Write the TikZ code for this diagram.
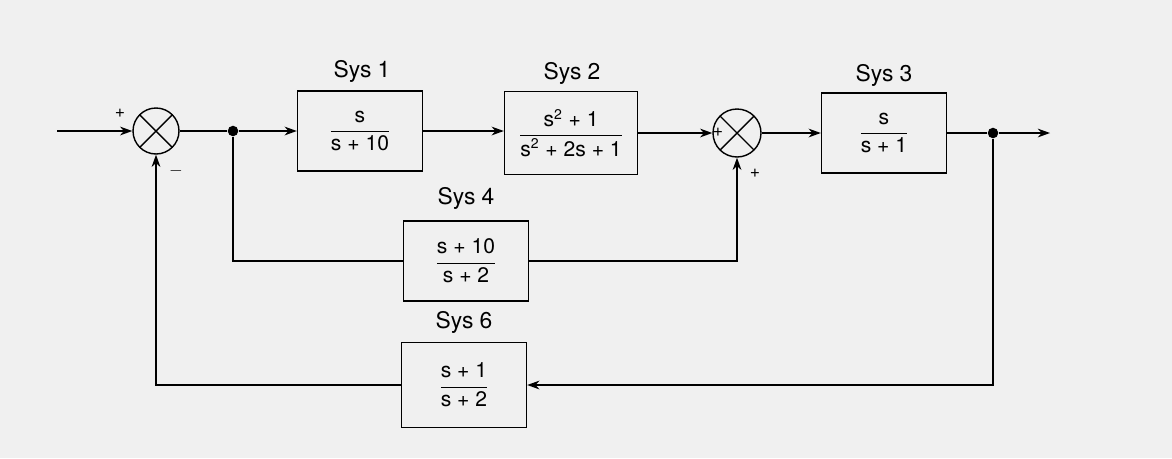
\documentclass[tikz,border=0pt]{standalone}
\usepackage{amsmath}
\usepackage{fontspec}
\setmainfont{TeX Gyre Heros}
\usetikzlibrary{arrows.meta}
\tikzset{
    blk/.style={draw,thick,minimum width=2.5cm,minimum height=1.6cm,inner sep=0pt,font=\fontsize{12}{14}\selectfont},
    sumpt/.style={draw,thick,circle,minimum size=0.92cm,inner sep=0pt,
        path picture={\draw[thick] (path picture bounding box.north west) -- (path picture bounding box.south east)
            (path picture bounding box.north east) -- (path picture bounding box.south west);}},
    sig/.style={thick,-{Stealth[length=7pt,width=5pt]}},
    ttl/.style={font=\fontsize{13}{15}\selectfont},
    sgn/.style={font=\fontsize{10}{12}\selectfont},
    dot/.style={circle,fill,inner sep=0pt,minimum size=6pt}
}
\begin{document}
\begin{tikzpicture}[x=0.02cm,y=-0.02cm]
    \fill[gray!12] (0,0) rectangle (1172,458);
    \useasboundingbox (0,0) rectangle (1172,458);
    % Blocks
    \node[sumpt] (sum1) at (156,131) {};
    \node[dot] (tap1) at (233,131) {};
    \node[blk] (sys1) at (360,131) {$\dfrac{\text{s}}{\text{s + 10}}$};
    \node[blk,minimum width=2.66cm,minimum height=1.66cm] (sys2) at (571,133) {$\dfrac{\text{s\textsuperscript{2} + 1}}{\text{s\textsuperscript{2} + 2s + 1}}$};
    \node[sumpt,minimum size=0.96cm] (sum2) at (737,133) {};
    \node[blk] (sys3) at (884,133) {$\dfrac{\text{s}}{\text{s + 1}}$};
    \node[dot] (tap2) at (993,133) {};
    \node[blk] (sys4) at (466,261) {$\dfrac{\text{s + 10}}{\text{s + 2}}$};
    \node[blk,minimum height=1.7cm] (sys6) at (464,385) {$\dfrac{\text{s + 1}}{\text{s + 2}}$};
    \coordinate (in) at (57,131);
    \coordinate (out) at (1050,133);
    % Titles
    \node[ttl] (t1) at (362,71) {Sys 1};
    \node[ttl] (t2) at (572,73) {Sys 2};
    \node[ttl] (t3) at (884,75) {Sys 3};
    \node[ttl] (t4) at (466,198) {Sys 4};
    \node[ttl] (t6) at (464,322) {Sys 6};
    % Signs
    \node[sgn] (p1) at (120,113) {+};
    \node[sgn] (m1) at (176,171) {$-$};
    \node[sgn] (p2) at (718,132) {+};
    \node[sgn] (p3) at (755,173) {+};
    % Signals
    \draw[sig] (in) -- (sum1);
    \draw[thick] (sum1) -- (tap1);
    \draw[sig] (tap1) -- (sys1);
    \draw[sig] (sys1.east) -- (sys1.east -| sys2.west);
    \draw[sig] (sys2) -- (sum2);
    \draw[sig] (sum2) -- (sys3);
    \draw[thick] (sys3) -- (tap2);
    \draw[sig] (tap2) -- (out);
    \draw[thick] (tap1) |- (sys4);
    \draw[sig] (sys4) -| (sum2);
    \draw[sig] (tap2) -- (tap2 |- sys6) -- (sys6);
    \draw[sig] (sys6) -| (sum1);
\end{tikzpicture}
\end{document}
